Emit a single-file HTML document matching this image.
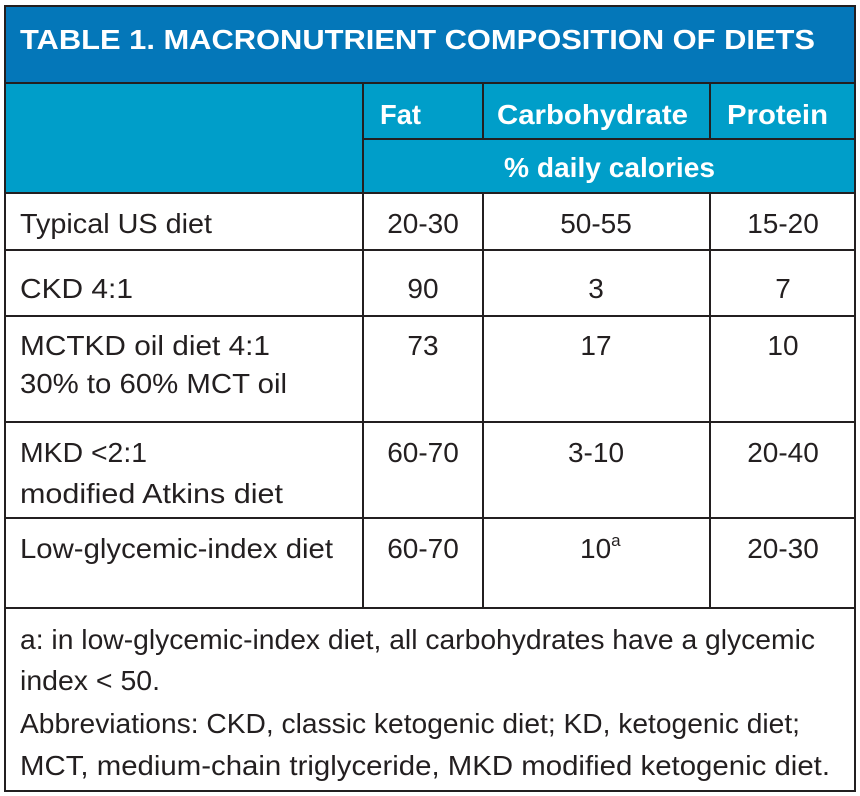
<!DOCTYPE html>
<html><head><meta charset="utf-8"><style>
html,body{margin:0;padding:0;background:#fff;}
svg{display:block;}
text{font-family:"Liberation Sans",sans-serif;font-size:28px;fill:#231f20;}
.w{fill:#fff;font-weight:bold;}
.c{text-anchor:middle;}
</style></head><body>
<svg width="860" height="796" viewBox="0 0 860 796">
<rect x="0" y="0" width="860" height="796" fill="#fff"/>
<rect x="5" y="6" width="850" height="77" fill="#0477b9"/>
<rect x="5" y="83" width="850" height="110" fill="#009ec9"/>
<g stroke="#231f20" stroke-width="2" fill="none">
<rect x="5" y="6" width="850" height="785"/>
<line x1="5" y1="83" x2="855" y2="83"/>
<line x1="363" y1="139" x2="855" y2="139"/>
<line x1="5" y1="193" x2="855" y2="193"/>
<line x1="5" y1="250" x2="855" y2="250"/>
<line x1="5" y1="316" x2="855" y2="316"/>
<line x1="5" y1="422" x2="855" y2="422"/>
<line x1="5" y1="518" x2="855" y2="518"/>
<line x1="5" y1="608" x2="855" y2="608"/>
<line x1="363" y1="83" x2="363" y2="608"/>
<line x1="483" y1="83" x2="483" y2="139"/>
<line x1="483" y1="193" x2="483" y2="608"/>
<line x1="710" y1="83" x2="710" y2="139"/>
<line x1="710" y1="193" x2="710" y2="608"/>
</g>
<text class="w" x="20" y="49" textLength="795" lengthAdjust="spacingAndGlyphs">TABLE 1. MACRONUTRIENT COMPOSITION OF DIETS</text>
<text class="w" x="380" y="124" textLength="41" lengthAdjust="spacingAndGlyphs">Fat</text>
<text class="w" x="497" y="124" textLength="191" lengthAdjust="spacingAndGlyphs">Carbohydrate</text>
<text class="w" x="727" y="124" textLength="101" lengthAdjust="spacingAndGlyphs">Protein</text>
<text class="w" x="504" y="177" textLength="211" lengthAdjust="spacingAndGlyphs">% daily calories</text>

<text x="20" y="233" textLength="192" lengthAdjust="spacingAndGlyphs">Typical US diet</text>
<text class="c" x="423" y="233">20-30</text><text class="c" x="596" y="233">50-55</text><text class="c" x="783" y="233">15-20</text>
<text x="20" y="298" textLength="113" lengthAdjust="spacingAndGlyphs">CKD 4:1</text>
<text class="c" x="423" y="298">90</text><text class="c" x="596" y="298">3</text><text class="c" x="783" y="298">7</text>
<text x="20" y="355" textLength="250" lengthAdjust="spacingAndGlyphs">MCTKD oil diet 4:1</text>
<text x="20" y="393" textLength="267" lengthAdjust="spacingAndGlyphs">30% to 60% MCT oil</text>
<text class="c" x="423" y="355">73</text><text class="c" x="596" y="355">17</text><text class="c" x="783" y="355">10</text>
<text x="20" y="462" textLength="127" lengthAdjust="spacingAndGlyphs">MKD &lt;2:1</text>
<text x="20" y="503" textLength="263" lengthAdjust="spacingAndGlyphs">modified Atkins diet</text>
<text class="c" x="423" y="462">60-70</text><text class="c" x="596" y="462">3-10</text><text class="c" x="783" y="462">20-40</text>
<text x="20" y="558" textLength="313" lengthAdjust="spacingAndGlyphs">Low-glycemic-index diet</text>
<text class="c" x="423" y="558">60-70</text><text x="580" y="558">10<tspan font-size="17" dy="-12">a</tspan></text><text class="c" x="783" y="558">20-30</text>

<text x="20" y="649" textLength="795" lengthAdjust="spacingAndGlyphs">a: in low-glycemic-index diet, all carbohydrates have a glycemic</text>
<text x="20" y="690" textLength="140" lengthAdjust="spacingAndGlyphs">index &lt; 50.</text>
<text x="20" y="733" textLength="780" lengthAdjust="spacingAndGlyphs">Abbreviations: CKD, classic ketogenic diet; KD, ketogenic diet;</text>
<text x="20" y="775" textLength="810" lengthAdjust="spacingAndGlyphs">MCT, medium-chain triglyceride, MKD modified ketogenic diet.</text>
</svg>
</body></html>
